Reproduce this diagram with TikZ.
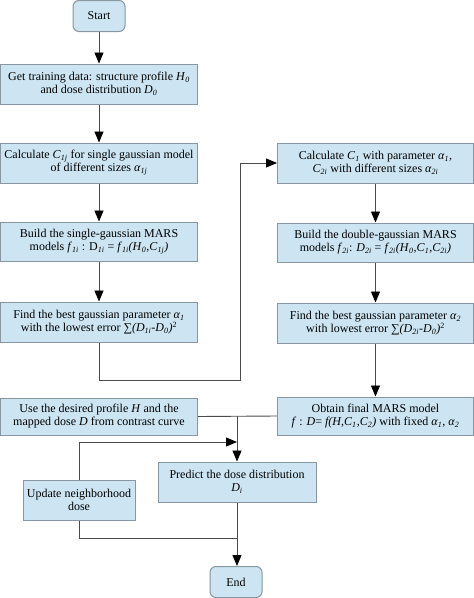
\documentclass[tikz,border=0pt]{standalone}
\usepackage{fontspec}
\setmainfont{Liberation Serif}
\newfontfamily\boxfont{Liberation Serif}
\usetikzlibrary{arrows.meta}
\definecolor{boxfill}{RGB}{205,229,243}
\definecolor{boxline}{RGB}{135,150,160}
\definecolor{conn}{RGB}{75,75,75}
\newcommand{\iv}[1]{\textit{#1}}
\newcommand{\sbi}[1]{\textsubscript{\textit{#1}}}
\begin{document}
\begin{tikzpicture}[x=1pt,y=-1pt,
  box/.style={draw=boxline,fill=boxfill,line width=1pt,inner sep=1pt,align=center,
    font=\boxfont\fontsize{12}{13}\selectfont},
  term/.style={box,rounded corners=6pt},
  conline/.style={draw=conn,line width=0.9pt},
  arr/.style={conline,-{Triangle[length=11pt,width=9pt,fill=black,color=black]}}]
\useasboundingbox (0,0) rectangle (474,598);
\fill[white] (0,0) rectangle (474,598);
% left column
\node[term,minimum width=52pt,minimum height=31pt] (start) at (99,16) {Start};
\node[box,minimum width=197pt,minimum height=40pt] (b1) at (99,84)
  {Get training data: structure profile \iv{H}\sbi{0}\\ and dose distribution \iv{D}\sbi{0}};
\node[box,minimum width=197pt,minimum height=40pt] (b2) at (99,163)
  {Calculate \iv{C}\sbi{1j} for single gaussian model\\ of different sizes \iv{α}\sbi{1j}};
\node[box,minimum width=197pt,minimum height=39pt] (b3) at (99,241.5)
  {Build the single-gaussian MARS\\ models \iv{f}\sbi{1i} : D\sbi{1i} = \iv{f}\sbi{1i}\iv{(H}\sbi{0}\iv{,C}\sbi{1j}\iv{)}};
\node[box,minimum width=197pt,minimum height=40pt] (b4) at (99,322)
  {Find the best gaussian parameter \iv{α}\sbi{1}\\ with the lowest error ∑\iv{(D}\sbi{1i}\iv{-D}\sbi{0}\iv{)}\textsuperscript{2}};
% right column
\node[box,minimum width=196pt,minimum height=40pt] (r1) at (375.5,163)
  {Calculate \iv{C}\sbi{1} with parameter \iv{α}\sbi{1},\\ \iv{C}\sbi{2i} with different sizes \iv{α}\sbi{2i}};
\node[box,minimum width=196pt,minimum height=39pt] (r2) at (375.5,242.5)
  {Build the double-gaussian MARS\\ models \iv{f}\sbi{2i}: \iv{D}\sbi{2i} = \iv{f}\sbi{2i}\iv{(H}\sbi{0}\iv{,C}\sbi{1}\iv{,C}\sbi{2i}\iv{)}};
\node[box,minimum width=196pt,minimum height=40pt] (r3) at (375.5,323)
  {Find the best gaussian parameter \iv{α}\sbi{2}\\ with lowest error ∑\iv{(D}\sbi{2i}\iv{-D}\sbi{0}\iv{)}\textsuperscript{2}};
% bottom part
\node[box,minimum width=197pt,minimum height=37pt] (use) at (99,416.5)
  {Use the desired profile \iv{H} and the\\ mapped dose \iv{D} from contrast curve};
\node[box,minimum width=196pt,minimum height=38pt] (obt) at (375.5,416)
  {Obtain final MARS model\\ \iv{f} : \iv{D}= \iv{f(H,C}\sbi{1}\iv{,C}\sbi{2}\iv{)} with fixed \iv{α}\sbi{1}, \iv{α}\sbi{2}};
\node[box,minimum width=158pt,minimum height=40pt] (pred) at (237,482)
  {Predict the dose distribution\\ \iv{D}\sbi{i}};
\node[box,minimum width=112pt,minimum height=40pt] (upd) at (79,500)
  {Update neighborhood\\ dose};
\node[term,minimum width=52pt,minimum height=31pt] (end) at (236,582) {End};
% coordinates
\coordinate (l1) at (99,380);
\coordinate (l2) at (240,380);
\coordinate (l3) at (240,163);
\coordinate (j1) at (237,416);
\coordinate (u1) at (79,442);
\coordinate (j2) at (237,442);
\coordinate (u2) at (79,538);
\coordinate (j3) at (237,538);
% connectors
\draw[arr] (start) -- (b1);
\draw[arr] (b1) -- (b2);
\draw[arr] (b2) -- (b3);
\draw[arr] (b3) -- (b4);
\draw[conline] (b4.south) -- (l1) -- (l2) -- (l3);
\draw[arr] (l3) -- (r1.west);
\draw[arr] (r1) -- (r2);
\draw[arr] (r2) -- (r3);
\draw[arr] (r3) -- (obt);
\draw[conline] (use.east) -- (obt.west);
\draw[arr] (j1) -- (pred.north -| j1);
\draw[arr] (upd.north) -- (u1) -- (j2);
\draw[arr] (pred.south -| j1) -- (end.north -| j1);
\draw[conline] (upd.south) -- (u2) -- (j3);
\end{tikzpicture}
\end{document}
